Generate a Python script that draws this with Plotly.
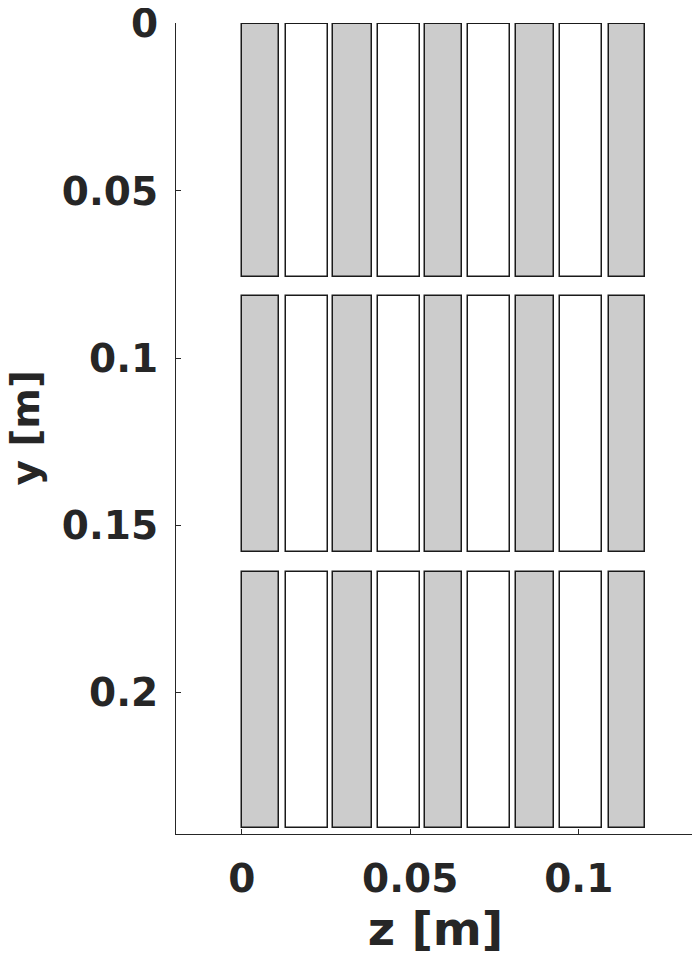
import plotly.graph_objects as go

# Geometria de los bloques (m)
col_left = [0.0, 0.0131, 0.0272, 0.0404, 0.0545, 0.0671, 0.0815, 0.0945, 0.1089]
col_width = [0.0112, 0.0124, 0.0115, 0.0124, 0.0110, 0.0124, 0.0113, 0.0124, 0.0107]
col_tipo = ['A', 'B', 'A', 'B', 'A', 'B', 'A', 'B', 'A']

row_top = [0.0, 0.0815, 0.164]
row_bottom = [0.0756, 0.158, 0.2405]

x_ticks = [0, 0.05, 0.1]
y_ticks = [0, 0.05, 0.1, 0.15, 0.2]

colores = {'A': '#cccccc', 'B': '#ffffff'}

fig = go.Figure()
for left, w, tipo in zip(col_left, col_width, col_tipo):
    fig.add_trace(go.Bar(
        x=[left + w / 2] * len(row_top),
        y=[b - t for t, b in zip(row_top, row_bottom)],
        base=row_top,
        width=w,
        marker=dict(color=colores[tipo], line=dict(color='#1a1a1a', width=1.5)),
        showlegend=False,
    ))

# la pagina tiene 8 px de margen en el body: se descuentan
fuente = dict(family='DejaVu Sans', size=39, color='#262626')
fig.update_layout(
    width=692, height=955,
    margin=dict(l=168, r=5, t=15, b=129),
    paper_bgcolor='white', plot_bgcolor='white',
    barmode='overlay', bargap=0,
    font=fuente,
)
fig.update_xaxes(
    range=[-0.0195, 0.1345], tickvals=x_ticks, automargin=False,
    showgrid=False, zeroline=False,
    showline=True, linecolor='#262626', linewidth=1.2,
    ticks='inside', ticklen=5, tickcolor='#262626',
    tickfont=dict(family='DejaVu Sans', size=39, weight='bold'),
    ticklabelstandoff=10, ticklabeloverflow='allow',
    title=dict(text='<b>z [m]</b>', standoff=4),
)
fig.update_yaxes(
    range=[0.2423, -0.0002], tickvals=y_ticks, automargin=False,
    showgrid=False, zeroline=False,
    showline=True, linecolor='#262626', linewidth=1.2,
    ticks='inside', ticklen=5, tickcolor='#262626',
    tickfont=dict(family='DejaVu Sans', size=39, weight='bold'),
    ticklabelstandoff=9, ticklabeloverflow='allow',
)
fig.add_annotation(
    text='<b>y [m]</b>', textangle=-90,
    xref='paper', yref='paper', x=0, y=0.5,
    xanchor='center', yanchor='middle', xshift=-151,
    showarrow=False, font=fuente,
)

fig.write_html("out.html")
